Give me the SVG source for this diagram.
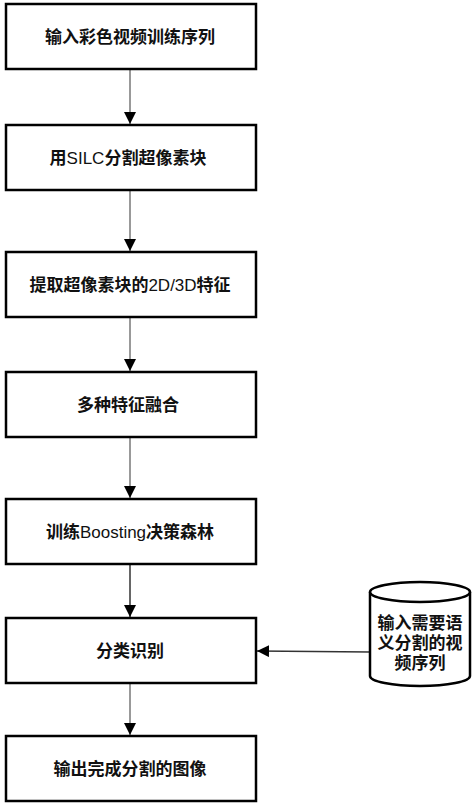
<svg xmlns="http://www.w3.org/2000/svg" width="474" height="806" viewBox="0 0 474 806">
<style>
.box{fill:#fff;stroke:#000;stroke-width:2.5}
.t{font-family:"Liberation Sans","Noto Sans CJK SC",sans-serif;font-size:17px;font-weight:bold;fill:#111;text-anchor:middle;dominant-baseline:central}
.l{font-weight:normal}
.c{fill:none;stroke:#777;stroke-width:1.5}
.ch{fill:none;stroke:#333;stroke-width:1.5}
</style>
<defs>
<marker id="ah" markerWidth="12" markerHeight="12" refX="10" refY="5" orient="auto" markerUnits="userSpaceOnUse" viewBox="0 0 10 10">
<path d="M0,0 L10,5 L0,10 Z" fill="#000"/>
</marker>
</defs>
<rect width="474" height="806" fill="#fff"/>
<g id="connectors">
<line class="c" x1="130" y1="69" x2="130" y2="124" marker-end="url(#ah)"/>
<line class="c" x1="130" y1="190" x2="130" y2="251" marker-end="url(#ah)"/>
<line class="c" x1="130" y1="317" x2="130" y2="371" marker-end="url(#ah)"/>
<line class="c" x1="130" y1="437" x2="130" y2="498" marker-end="url(#ah)"/>
<line class="ch" x1="130" y1="564" x2="130" y2="617" marker-end="url(#ah)"/>
<line class="c" x1="130" y1="683" x2="130" y2="735" marker-end="url(#ah)"/>
<line class="ch" x1="370" y1="652" x2="257" y2="651" marker-end="url(#ah)"/>
</g>
<g id="n1"><rect class="box" x="6" y="4" width="250" height="65"/><text class="t" x="130" y="37">输入彩色视频训练序列</text></g>
<g id="n2"><rect class="box" x="6" y="125" width="250" height="65"/><text class="t" x="128" y="158">用<tspan class="l">SILC</tspan>分割超像素块</text></g>
<g id="n3"><rect class="box" x="6" y="252" width="250" height="65"/><text class="t" x="130" y="285">提取超像素块的<tspan class="l">2D/3D</tspan>特征</text></g>
<g id="n4"><rect class="box" x="6" y="372" width="250" height="65"/><text class="t" x="128" y="405">多种特征融合</text></g>
<g id="n5"><rect class="box" x="6" y="499" width="250" height="65"/><text class="t" x="130" y="532">训练<tspan class="l">Boosting</tspan>决策森林</text></g>
<g id="n6"><rect class="box" x="6" y="618" width="250" height="65"/><text class="t" x="130" y="651">分类识别</text></g>
<g id="n7"><rect class="box" x="6" y="736" width="250" height="65"/><text class="t" x="130" y="769">输出完成分割的图像</text></g>
<g id="db">
<path class="box" d="M370,592 L370,676 A50,10 0 0 0 470,676 L470,592 A50,10 0 0 0 370,592 Z"/>
<path class="box" d="M370,592 A50,10 0 0 0 470,592"/>
<text class="t" x="420" y="623">输入需要语</text>
<text class="t" x="420" y="643">义分割的视</text>
<text class="t" x="420" y="663">频序列</text>
</g>
</svg>
